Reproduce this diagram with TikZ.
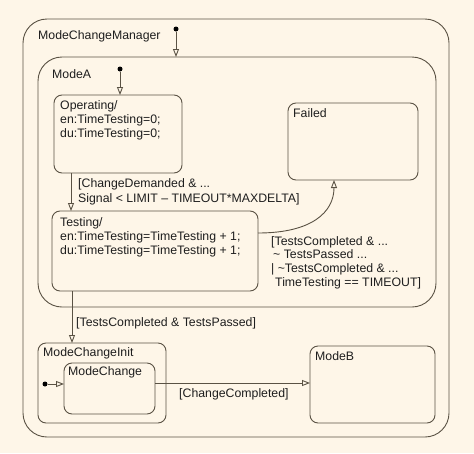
\documentclass[tikz,border=0pt]{standalone}
\usepackage{fontspec}
\setmainfont{Liberation Sans}
\usetikzlibrary{arrows.meta}
\definecolor{bgc}{HTML}{FEF6E8}
\definecolor{linec}{HTML}{5A5244}
\definecolor{txtc}{HTML}{1E1E1E}
\begin{document}
\begin{tikzpicture}[x=1pt,y=-1pt,
  statebox/.style={draw=linec, line width=0.9pt, inner sep=0pt, outer sep=0pt, anchor=north west, rectangle},
  bigbox/.style={statebox, rounded corners=24pt},
  smallbox/.style={statebox, rounded corners=8pt},
  txt/.style={text=txtc, inner sep=0pt, anchor=west, align=left, font=\fontsize{12.3}{14}\selectfont},
  arr/.style={draw=linec, line width=0.9pt, -{Triangle[open, length=8pt, width=6pt]}},
  initdot/.style={circle, fill=black, inner sep=0pt, minimum size=5pt}]
\fill[bgc] (0,0) rectangle (474,453);
\useasboundingbox (0,0) rectangle (474,453);
% states
\node[bigbox, minimum width=426pt, minimum height=418pt] (MCM) at (23,19) {};
\node[bigbox, minimum width=398pt, minimum height=250pt] (ModeA) at (38,57) {};
\node[smallbox, minimum width=128pt, minimum height=78pt] (Operating) at (54,95) {};
\node[smallbox, minimum width=206pt, minimum height=80pt] (Testing) at (52,211) {};
\node[smallbox, minimum width=130pt, minimum height=77pt] (Failed) at (288,103) {};
\node[smallbox, minimum width=128pt, minimum height=80pt] (MCInit) at (38,343) {};
\node[smallbox, minimum width=91pt, minimum height=51pt] (ModeChange) at (64,363) {};
\node[smallbox, minimum width=125pt, minimum height=77pt] (ModeB) at (310,346) {};
% state texts
\node[txt] (tMCM) at (38,36) {ModeChangeManager};
\node[txt] (tModeA) at (52,74) {ModeA};
\node[txt] (tOp) at (60,120) {Operating/\\en:TimeTesting=0;\\du:TimeTesting=0;};
\node[txt] (tTest) at (60,237) {Testing/\\en:TimeTesting=TimeTesting + 1;\\du:TimeTesting=TimeTesting + 1;};
\node[txt] (tFailed) at (293,113) {Failed};
\node[txt] (tMCInit) at (43,353) {ModeChangeInit};
\node[txt] (tMC) at (68,372) {ModeChange};
\node[txt] (tModeB) at (315,356) {ModeB};
% initial transitions
\node[initdot] (i1) at (176,29) {};
\node[initdot] (i2) at (120,69) {};
\node[initdot] (i3) at (45,384) {};
\draw[arr] (i1) -- (i1 |- ModeA.north);
\draw[arr] (i2) -- (i2 |- Operating.north);
\draw[arr] (i3) -- (i3 -| ModeChange.west);
% transitions
\draw[arr] ([xshift=17pt]Operating.south west) -- ([xshift=19pt]Testing.north west);
\node[txt, font=\fontsize{12.3}{15.5}\selectfont] (l1) at (78,192) {[ChangeDemanded \& ...\\Signal < LIMIT – TIMEOUT*MAXDELTA]};
\draw[arr] ([yshift=-22pt]Testing.north east) .. controls (312,233) and (334,212) .. ([xshift=-19pt]Failed.south);
\node[txt, font=\fontsize{12.3}{13.7}\selectfont] (l2) at (271,262.5) {[TestsCompleted \& ...\\\hspace{2pt}\textasciitilde{} TestsPassed ...\\| \textasciitilde TestsCompleted \& ...\\\hspace{4pt}TimeTesting == TIMEOUT]};
\draw[arr] ([xshift=20pt]Testing.south west) -- ([xshift=34pt]MCInit.north west);
\node[txt] (l3) at (76,323) {[TestsCompleted \& TestsPassed]};
\draw[arr] ([yshift=-20pt]ModeChange.north east) -- ([yshift=-37pt]ModeB.north west);
\node[txt] (l4) at (179,394) {[ChangeCompleted]};
\end{tikzpicture}
\end{document}
